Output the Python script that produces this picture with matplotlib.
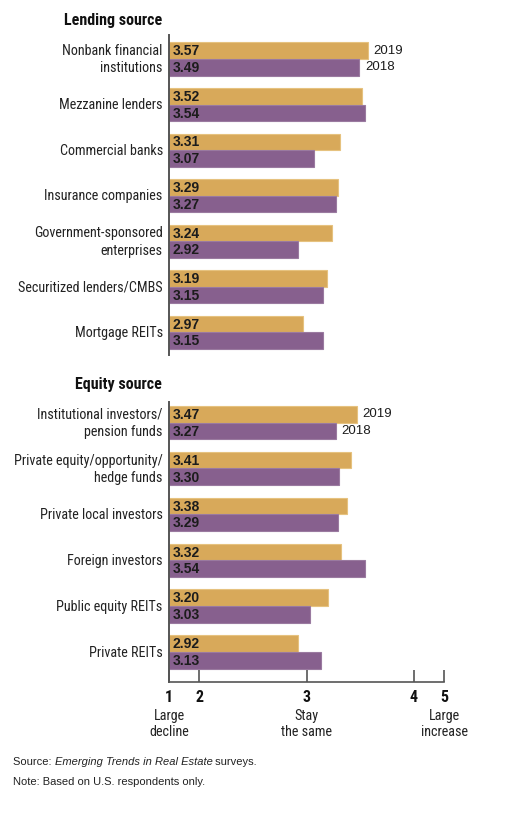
import numpy as np
import matplotlib
matplotlib.use("Agg")
import matplotlib.pyplot as plt
import matplotlib.transforms as mtransforms

# data
lending_labels = ["Nonbank financial\ninstitutions", "Mezzanine lenders", "Commercial banks",
                  "Insurance companies", "Government-sponsored\nenterprises",
                  "Securitized lenders/CMBS", "Mortgage REITs"]
lending_2019 = [3.57, 3.52, 3.31, 3.29, 3.24, 3.19, 2.97]
lending_2018 = [3.49, 3.54, 3.07, 3.27, 2.92, 3.15, 3.15]

equity_labels = ["Institutional investors/\npension funds", "Private equity/opportunity/\nhedge funds",
                 "Private local investors", "Foreign investors", "Public equity REITs", "Private REITs"]
equity_2019 = [3.47, 3.41, 3.38, 3.32, 3.20, 2.92]
equity_2018 = [3.27, 3.30, 3.29, 3.54, 3.03, 3.13]

scale_ticks = [1, 2, 3, 4, 5]
scale_words = ["Large\ndecline", "", "Stay\nthe same", "", "Large\nincrease"]

GOLD = "#D8A95A"
PURPLE = "#87608E"
NARROW = ["Roboto Condensed", "Archivo Narrow", "DejaVu Sans"]
REG = ["Liberation Sans", "Arimo", "DejaVu Sans"]

# the survey scale is drawn squeezed at both ends
tick_px = [0, 30, 137.7, 245, 275]


def fwd(x):
    return np.interp(x, scale_ticks, tick_px, left=-1e3, right=1e3)


def inv(x):
    return np.interp(x, tick_px, scale_ticks)


W, H = 530, 814
fig = plt.figure(figsize=(W / 100, H / 100), dpi=100)


def px_axes(x0, y0, x1, y1):
    return fig.add_axes([x0 / W, 1 - y1 / H, (x1 - x0) / W, (y1 - y0) / H])


def draw_section(ax, labels, v19, v18, title, top_pad, bottom_pad, step, title_y):
    n = len(labels)
    y = np.arange(n)
    h = 16.6 / step
    ax.set_xscale("function", functions=(fwd, inv))
    ax.set_xlim(1, 5)
    ax.barh(y - h / 2, v19, height=h, left=0, color=GOLD, edgecolor="#E6C27F", linewidth=0.8)
    ax.barh(y + h / 2, v18, height=h, left=0, color=PURPLE, edgecolor="#9A7AA0", linewidth=0.8)
    ax.set_ylim(n - 1 + bottom_pad, -top_pad)
    for i in range(n):
        ax.annotate(f"{v19[i]:.2f}", xy=(1, y[i] - h / 2), xytext=(2.5, -0.5), textcoords="offset points",
                    ha="left", va="center", fontsize=10, fontweight="bold", color="#1c1c1c", family=REG)
        ax.annotate(f"{v18[i]:.2f}", xy=(1, y[i] + h / 2), xytext=(2.5, -0.5), textcoords="offset points",
                    ha="left", va="center", fontsize=10, fontweight="bold", color="#1c1c1c", family=REG)
        ax.annotate(labels[i], xy=(1, y[i]), xytext=(-4.5, -0.5), textcoords="offset points",
                    ha="right", va="center", fontsize=10.2, color="#222222", family=NARROW,
                    linespacing=1.3, annotation_clip=False)
    # year keys on first group
    ax.annotate("2019", xy=(v19[0], -h / 2), xytext=(4, 0), textcoords="offset points",
                ha="left", va="center", fontsize=9.5, color="#1c1c1c", family=REG, annotation_clip=False)
    ax.annotate("2018", xy=(v18[0], h / 2), xytext=(4, 0), textcoords="offset points",
                ha="left", va="center", fontsize=9.5, color="#1c1c1c", family=REG, annotation_clip=False)
    ax.annotate(title, xy=(1, 1 - title_y / H),
                xycoords=mtransforms.blended_transform_factory(ax.transData, fig.transFigure),
                xytext=(-5, 0), textcoords="offset points", ha="right", va="center",
                fontsize=11.5, fontweight="bold", color="#111111", family=NARROW, annotation_clip=False)
    for s in ["top", "right", "bottom"]:
        ax.spines[s].set_visible(False)
    ax.spines["left"].set_color("#555555")
    ax.spines["left"].set_linewidth(1.4)
    ax.set_yticks([])
    ax.patch.set_visible(False)


ax1 = px_axes(169, 35, 444, 355)
draw_section(ax1, lending_labels, lending_2019, lending_2018, "Lending source",
             24 / 45.6, 22.7 / 45.6, 45.6, 21)
ax1.set_xticks([])

ax2 = px_axes(169, 402, 444, 682)
draw_section(ax2, equity_labels, equity_2019, equity_2018, "Equity source",
             20.6 / 45.8, 30 / 45.8, 45.8, 384)
ax2.spines["bottom"].set_visible(True)
ax2.spines["bottom"].set_color("#555555")
ax2.spines["bottom"].set_linewidth(1.2)
ax2.set_xticks(scale_ticks)
ax2.set_xticklabels([str(t) for t in scale_ticks])
ax2.tick_params(axis="x", direction="in", length=9, width=1.2, color="#555555", pad=5.5)
for lab in ax2.get_xticklabels():
    lab.set_fontweight("bold")
    lab.set_fontsize(11.5)
    lab.set_family(NARROW)
    lab.set_color("#111111")

tr = mtransforms.blended_transform_factory(ax2.transData, ax2.transAxes)
for t, w in zip(scale_ticks, scale_words):
    if w:
        ax2.annotate(w, xy=(t, 0), xycoords=tr, xytext=(0, -19.5), textcoords="offset points",
                     ha="center", va="top", fontsize=10.2, color="#222222", family=NARROW,
                     linespacing=1.15, annotation_clip=False)

fig.text(13 / W, 1 - 762 / H, "Source: ", ha="left", va="center", fontsize=8, color="#222222", family=REG)
src = fig.texts[-1]
fig.canvas.draw()
bb = src.get_window_extent()
fig.text(bb.x1 / W, 1 - 762 / H, "Emerging Trends in Real Estate", ha="left", va="center",
         fontsize=8, style="italic", color="#222222", family=REG)
bb2 = fig.texts[-1].get_window_extent()
fig.text(bb2.x1 / W, 1 - 762 / H, " surveys.", ha="left", va="center", fontsize=8, color="#222222", family=REG)
fig.text(13 / W, 1 - 782 / H, "Note: Based on U.S. respondents only.", ha="left", va="center",
         fontsize=8, color="#222222", family=REG)

fig.savefig("out.png", dpi=100)
